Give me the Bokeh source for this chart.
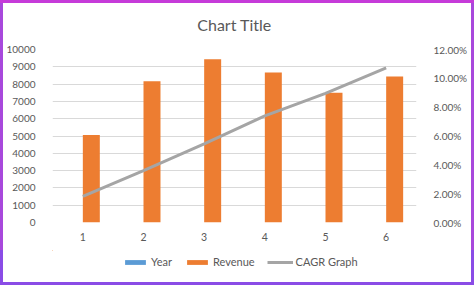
from bokeh.plotting import figure
from bokeh.layouts import column
from bokeh.models import (Range1d, LinearAxis, FixedTicker, NumeralTickFormatter,
                          Legend, LegendItem, ColumnDataSource)
from bokeh.embed import file_html
from bokeh.resources import INLINE
from bokeh.transform import dodge

# ---- data ----
categories = [1, 2, 3, 4, 5, 6]
year = [0, 1, 2, 3, 4, 5]
revenue = [5060, 8170, 9440, 8670, 7500, 8440]
cagr = [0.0181, 0.0360, 0.0545, 0.0740, 0.0896, 0.1073]
left_ticks = [0, 1000, 2000, 3000, 4000, 5000, 6000, 7000, 8000, 9000, 10000]
right_ticks = [0.0, 0.02, 0.04, 0.06, 0.08, 0.10, 0.12]
title_text = "Chart Title"
series_names = ["Year", "Revenue", "CAGR Graph"]

FONT = "Lato"
TXT = "#595959"
BLUE = "#5B9BD5"
ORANGE = "#ED7D31"
GREY = "#A5A5A5"
FS = "10px"

src = ColumnDataSource(dict(x=categories, year=year, revenue=revenue, cagr=cagr))

W = 474
H_MAIN, H_LEG = 250, 35
ML, MR, MT, MB = 52, 58, 49, 28

p = figure(width=W, height=H_MAIN, output_backend="svg", toolbar_location=None,
           x_range=Range1d(0.5, 6.5), y_range=Range1d(0, 10000),
           min_border_left=ML, min_border_right=MR, min_border_top=MT,
           min_border_bottom=MB, background_fill_color="white",
           border_fill_alpha=0, outline_line_color=None,
           title=title_text)
# purple frame round the whole picture (the lower part is an outer shadow)
p.styles = {"background": "white",
            "box-shadow": "inset 0 3px 0 0 #c63bd9, inset 3px 0 0 0 #a848dc, "
                          "inset -3px 0 0 0 #a848dc, "
                          "0 35px 0 -3px #ffffff, 0 35px 0 0 #8a4ce6"}

p.title.align = "center"
p.title.vertical_align = "top"
p.title.text_font = FONT
p.title.text_font_size = "16px"
p.title.text_font_style = "normal"
p.title.text_color = TXT
p.title.standoff = 28
p.title.offset = 2

p.extra_y_ranges = {"pct": Range1d(0, 0.12)}

# grids
p.xgrid.grid_line_color = None
p.ygrid.ticker = FixedTicker(ticks=left_ticks)
p.ygrid.grid_line_color = "#D9D9D9"
p.ygrid.grid_line_width = 1

# axes
for ax in (p.xaxis[0], p.yaxis[0]):
    ax.axis_line_color = None
    ax.major_tick_line_color = None
    ax.minor_tick_line_color = None
    ax.major_label_text_font = FONT
    ax.major_label_text_font_size = FS
    ax.major_label_text_color = TXT
p.xaxis.ticker = FixedTicker(ticks=categories)
p.xaxis.major_label_text_font_size = "10.5px"
p.xaxis.major_label_standoff = 4
p.yaxis.ticker = FixedTicker(ticks=left_ticks)
p.yaxis.major_label_standoff = 11

rax = LinearAxis(y_range_name="pct", ticker=FixedTicker(ticks=right_ticks),
                 formatter=NumeralTickFormatter(format="0.00%"))
rax.axis_line_color = None
rax.major_tick_line_color = None
rax.minor_tick_line_color = None
rax.major_label_text_font = FONT
rax.major_label_text_font_size = FS
rax.major_label_text_color = TXT
rax.major_label_standoff = 11
p.add_layout(rax, "right")

# series
p.vbar(x=dodge("x", -0.14), top="year", width=0.28, source=src,
       fill_color=BLUE, line_color=None)
p.vbar(x=dodge("x", 0.14), top="revenue", width=0.28, source=src,
       fill_color=ORANGE, line_color=None)
p.line(x="x", y="cagr", source=src, y_range_name="pct",
       line_color=GREY, line_width=3)

# legend strip (separate small figure so it can sit below the axis labels);
# its renderers are zero-height / out of view, only the legend shows
q = figure(width=W, height=H_LEG, output_backend="svg", toolbar_location=None,
           x_range=Range1d(100, 101), y_range=Range1d(100, 101),
           x_axis_location=None, y_axis_location=None,
           min_border_left=ML, min_border_right=MR, min_border_top=0,
           min_border_bottom=0, outline_line_color=None,
           background_fill_alpha=0, border_fill_alpha=0)
q.grid.visible = False
l_year = q.vbar(x="x", top="year", bottom="year", width=0.28, source=src,
                fill_color=BLUE, line_color=None)
l_rev = q.vbar(x="x", top="revenue", bottom="revenue", width=0.28, source=src,
               fill_color=ORANGE, line_color=None)
l_cagr = q.line(x="x", y="cagr", source=src, line_color=GREY, line_width=3)

legend = Legend(items=[LegendItem(label=series_names[0], renderers=[l_year]),
                       LegendItem(label=series_names[1], renderers=[l_rev]),
                       LegendItem(label=series_names[2], renderers=[l_cagr])],
                orientation="horizontal", location=(70, 17),
                border_line_color=None, background_fill_alpha=0,
                glyph_width=26, glyph_height=6, label_height=12,
                label_standoff=3, spacing=12, padding=0, margin=0,
                label_text_font=FONT, label_text_font_size="11px",
                label_text_color=TXT)
q.add_layout(legend)

layout = column(p, q, spacing=0)

open("out.html", "w").write(file_html(layout, INLINE))
